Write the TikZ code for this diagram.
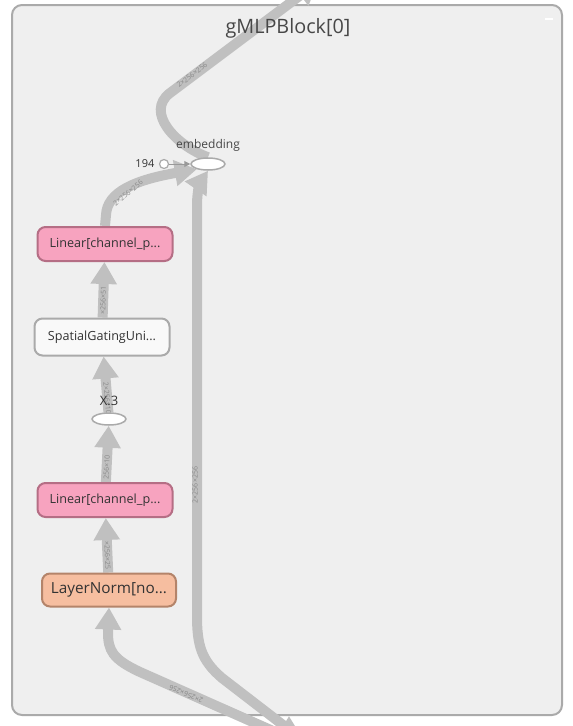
\documentclass[tikz,border=0pt]{standalone}
\usepackage{fontspec}
\setmainfont{Open Sans}
\usetikzlibrary{arrows.meta,positioning,shapes.geometric,backgrounds}
\definecolor{bg}{HTML}{EFEFEF}
\definecolor{rim}{HTML}{AAAAAA}
\definecolor{edgegray}{HTML}{C0C0C0}
\definecolor{pinkfill}{HTML}{F7A3BF}
\definecolor{pinkrim}{HTML}{B56E85}
\definecolor{peachfill}{HTML}{F6BEA0}
\definecolor{peachrim}{HTML}{B4846A}
\definecolor{txt}{HTML}{333333}
\definecolor{lbl}{HTML}{888888}
\tikzset{
  modul/.style={draw,rounded corners=8pt,line width=2pt,minimum width=135pt,
    minimum height=34pt,inner sep=0pt,text=txt,font=\fontsize{12.6}{14}\selectfont},
  lin/.style={modul,fill=pinkfill,draw=pinkrim},
  norm/.style={modul,fill=peachfill,draw=peachrim,font=\fontsize{15.3}{17}\selectfont},
  blank/.style={modul,fill=white!60!bg,draw=rim},
  op/.style={ellipse,draw=rim,fill=white,line width=1.5pt,minimum width=34pt,
    minimum height=12pt,inner sep=0pt},
  kor/.style={circle,draw=rim,fill=white,line width=1.2pt,minimum size=9pt,inner sep=0pt},
  ed/.style={draw=edgegray,line width=10pt,-{Triangle[length=22pt,width=25pt]}},
  vek/.style={draw=gray!80,line width=1pt,-{Triangle[length=6pt,width=6pt]}},
  elab/.style={text=lbl,inner sep=0pt,font=\fontsize{7}{8}\selectfont},
}

\begin{document}
\begin{tikzpicture}[x=1pt,y=-1pt,font=\fontsize{12}{14}\selectfont,node distance=3pt]
  \useasboundingbox (0,0) rectangle (573,726);
  \node[text=txt!90!white,font=\fontsize{19.8}{23}\selectfont] (title) at (288,28) {gMLPBlock[0]};
  \node[op] (emb) at (208,164) {};
  \node[above=2pt of emb,text=txt!90!white] (embl) {embedding};
  \node[kor] (c194) at (164,164) {};
  \node[left=1pt of c194,text=txt,font=\fontsize{11}{12}\selectfont] (n194) {194};
  \node[lin] (lin1) at (105,244) {Linear[channel\_p...};
  \node[blank,minimum height=37pt] (sgu) at (102,337) {SpatialGatingUni...};
  \node[op] (x3) at (109,419) {};
  \node[above=3pt of x3,text=txt,font=\fontsize{13}{14}\selectfont] (x3l) {X.3};
  \node[lin] (lin2) at (105,500) {Linear[channel\_p...};
  \node[norm,minimum width=134pt,minimum height=33pt] (ln) at (109,590) {LayerNorm[no...};
  \coordinate (inA) at (282,735);
  \coordinate (inB) at (296,735);
  \coordinate (inC) at (289,790);
  \coordinate (inCtip) at (289,716);
  \coordinate (outC) at (318,-18);
  \begin{scope}[on background layer]
    \clip (0,0) rectangle (573,726);
    \fill[white] (0,0) rectangle (573,726);
    \draw[draw=rim,fill=bg,line width=2pt,rounded corners=10pt] (12,5) rectangle (562,715);
    \draw[white,line width=2pt] (545,19) -- (553,19);
    \draw[ed] (inA) -- (140,672) .. controls (112,659) and (108,650) .. (108,632) -- (ln.south);
    \node[elab,rotate=157] at (186,694) {2×256×256};
    \draw[ed] (inB) -- (222,678) .. controls (201,660) and (197,645) .. (197,615)
      -- (197,205) .. controls (197,190) and (201,181) .. (emb.south);
    \node[elab,rotate=90] at (195,485) {2×256×256};
    \draw[ed] (inC) -- (inCtip);
    \draw[ed] (ln) -- node[elab,sloped,pos=0.32] {×256×25} (lin2);
    \draw[ed] (lin2) -- node[elab,sloped,pos=0.26] {256×10} (x3);
    \draw[ed] (x3) -- node[elab,sloped,pos=0.25] {2×256×10} (sgu);
    \draw[ed] (sgu) -- node[elab,sloped,pos=0.3] {×256×51} (lin1);
    \draw[ed] (lin1.north) -- (106,215) .. controls (107,192) and (135,180) .. (emb.205);
    \node[elab,rotate=40] at (128,193) {2×256×256};
    \draw[ed] (emb.north) .. controls (175,145) and (145,112) .. (170,93) -- (outC);
    \node[elab,rotate=37] at (192,75) {2×256×256};
  \end{scope}
  \draw[vek] (c194) -- (emb);
\end{tikzpicture}
\end{document}
